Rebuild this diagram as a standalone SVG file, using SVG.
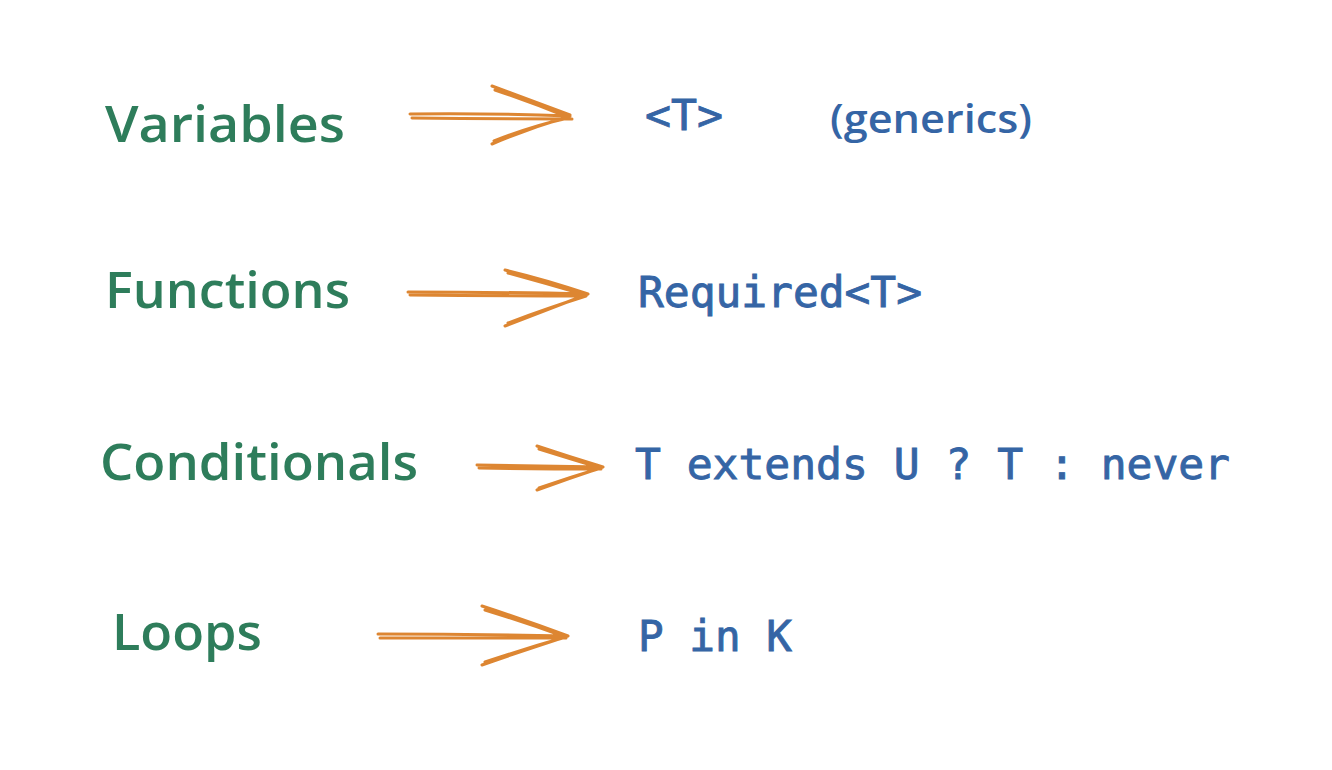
<svg xmlns="http://www.w3.org/2000/svg" width="1332" height="770" viewBox="0 0 1332 770">
<style>
.lbl{font-family:"Open Sans","Noto Sans",sans-serif;font-weight:600;font-size:50px;fill:#2e7d5b;}
.code{font-family:"DejaVu Sans Mono","Liberation Mono",monospace;font-size:42px;fill:#3565a5;stroke:#3565a5;stroke-width:0.9;}
.hand{font-family:"Open Sans","Noto Sans",sans-serif;font-weight:600;font-size:40px;fill:#3565a5;}
.arr{fill:none;stroke:#dd8632;stroke-width:3;stroke-linecap:round;}
</style>
<rect width="1332" height="770" fill="#ffffff"/>
<g id="node-variables"><text class="lbl" x="105" y="142" textLength="240" lengthAdjust="spacingAndGlyphs">Variables</text></g>
<g id="node-generic"><text class="code" x="645" y="130" textLength="78" lengthAdjust="spacingAndGlyphs">&lt;T&gt;</text><text class="hand" x="830" y="133" textLength="202" lengthAdjust="spacingAndGlyphs">(generics)</text></g>
<g id="node-functions"><text class="lbl" x="105" y="308" textLength="245" lengthAdjust="spacingAndGlyphs">Functions</text></g>
<g id="node-required"><text class="code" x="638" y="307" textLength="284" lengthAdjust="spacingAndGlyphs">Required&lt;T&gt;</text></g>
<g id="node-conditionals"><text class="lbl" x="100" y="480" textLength="318" lengthAdjust="spacingAndGlyphs">Conditionals</text></g>
<g id="node-extends"><text class="code" x="635" y="479" textLength="595" lengthAdjust="spacingAndGlyphs">T extends U ? T : never</text></g>
<g id="node-loops"><text class="lbl" x="112" y="650" textLength="150" lengthAdjust="spacingAndGlyphs">Loops</text></g>
<g id="node-pink"><text class="code" x="638" y="651" textLength="154" lengthAdjust="spacingAndGlyphs">P in K</text></g>
<g id="connectors">
<path class="arr" d="M410 114 Q490 113 570 116 M412 118 Q492 119 572 119 M492 86 Q530 100 570 115 M495 90 Q533 103 568 117 M492 144 Q530 128 570 116 M494 141 Q532 126 568 118"/>
<path class="arr" d="M408 292 Q500 292 588 294 M410 295 Q500 296 586 296 M505 270 Q547 280 588 294 M508 273 Q548 284 586 295 M505 326 Q547 310 588 294 M508 323 Q548 308 586 296"/>
<path class="arr" d="M477 465 Q540 466 603 467 M479 468 Q540 469 601 469 M537 446 Q570 457 603 467 M539 449 Q571 459 601 468 M537 490 Q570 478 603 467 M539 488 Q571 477 601 468"/>
<path class="arr" d="M378 634 Q470 634 568 636 M380 638 Q470 638 566 638 M482 606 Q525 620 568 636 M485 610 Q527 623 566 637 M482 665 Q525 650 568 636 M485 662 Q527 648 566 637"/>
</g>
</svg>
